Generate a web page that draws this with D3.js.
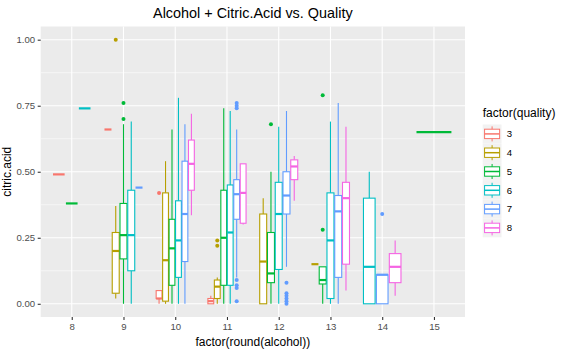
<!DOCTYPE html>
<html>
<head>
<meta charset="utf-8">
<script src="https://cdn.jsdelivr.net/npm/d3@7"></script>
<style>
  body { margin: 0; background: #fff; }
  text { font-family: "Liberation Sans", Arial, sans-serif; }
</style>
</head>
<body>
<div id="chart"></div>
<script>
const alcoholLevels = ["8", "9", "10", "11", "12", "13", "14", "15"];
const qualityLevels = ["3", "4", "5", "6", "7", "8"];
const qualityColors = ["#F8766D", "#B79F00", "#00BA38", "#00BFC4", "#619CFF", "#F564E3"];
const yTicks = [0, 0.25, 0.5, 0.75, 1];
const yMinor = [0.125, 0.375, 0.625, 0.875];

// alcohol, quality, lower whisker, q1, median, q3, upper whisker
const boxStats = [
    ["8", "3", 0.49, 0.49, 0.49, 0.49, 0.49],
    ["8", "5", 0.38, 0.38, 0.38, 0.38, 0.38],
    ["8", "6", 0.74, 0.74, 0.74, 0.74, 0.74],
    ["9", "3", 0.66, 0.66, 0.66, 0.66, 0.66],
    ["9", "4", 0.02, 0.04, 0.20, 0.27, 0.37],
    ["9", "5", 0, 0.17, 0.26, 0.38, 0.68],
    ["9", "6", 0, 0.125, 0.26, 0.43, 0.69],
    ["9", "7", 0.44, 0.44, 0.44, 0.44, 0.44],
    ["10", "3", 0, 0.02, 0.02, 0.05, 0.05],
    ["10", "4", 0, 0.01, 0.165, 0.42, 0.54],
    ["10", "5", 0, 0.07, 0.21, 0.32, 0.66],
    ["10", "6", 0, 0.10, 0.24, 0.39, 0.78],
    ["10", "7", 0, 0.16, 0.34, 0.54, 0.68],
    ["10", "8", 0.335, 0.43, 0.53, 0.62, 0.72],
    ["11", "3", 0, 0, 0.01, 0.02, 0.03],
    ["11", "4", 0, 0.02, 0.065, 0.09, 0.10],
    ["11", "5", 0, 0.07, 0.25, 0.43, 0.74],
    ["11", "6", 0, 0.07, 0.27, 0.45, 0.73],
    ["11", "7", 0.10, 0.32, 0.415, 0.47, 0.66],
    ["11", "8", 0.30, 0.305, 0.42, 0.53, 0.53],
    ["12", "4", 0, 0, 0.16, 0.34, 0.40],
    ["12", "5", 0, 0.08, 0.115, 0.27, 0.50],
    ["12", "6", 0, 0.13, 0.34, 0.46, 0.67],
    ["12", "7", 0.14, 0.34, 0.41, 0.50, 0.73],
    ["12", "8", 0.39, 0.47, 0.52, 0.545, 0.56],
    ["13", "4", 0.15, 0.15, 0.15, 0.15, 0.15],
    ["13", "5", 0, 0.075, 0.09, 0.14, 0.14],
    ["13", "6", 0, 0.02, 0.24, 0.42, 0.69],
    ["13", "7", 0, 0.10, 0.35, 0.41, 0.76],
    ["13", "8", 0.05, 0.15, 0.40, 0.46, 0.67],
    ["14", "6", 0, 0, 0.14, 0.40, 0.50],
    ["14", "7", 0, 0, 0.11, 0.11, 0.11],
    ["14", "8", 0.03, 0.08, 0.14, 0.19, 0.24],
    ["15", "5", 0.65, 0.65, 0.65, 0.65, 0.65]
];

// alcohol, quality, value
const outliers = [
    ["9", "4", 1.00], ["9", "5", 0.76], ["9", "5", 0.70],
    ["10", "3", 0.42],
    ["11", "4", 0.24], ["11", "4", 0.22],
    ["11", "7", 0.74], ["11", "7", 0.75], ["11", "7", 0.76],
    ["11", "7", 0.09], ["11", "7", 0.07], ["11", "7", 0.06], ["11", "7", 0.01],
    ["12", "5", 0.68],
    ["12", "7", 0.08], ["12", "7", 0.04], ["12", "7", 0.03], ["12", "7", 0.02], ["12", "7", 0.01], ["12", "7", 0],
    ["13", "5", 0.28], ["13", "5", 0.79],
    ["14", "7", 0.34]
];

const svgWidth = 563, svgHeight = 353;
const panel = { left: 40.7, top: 26.5, right: 465, bottom: 317 };

const svg = d3.select("#chart").append("svg")
    .attr("width", svgWidth)
    .attr("height", svgHeight);

const x = d3.scalePoint()
    .domain(alcoholLevels)
    .range([panel.left, panel.right])
    .padding(0.6);

const y = d3.scaleLinear()
    .domain([-0.05, 1.05])
    .range([panel.bottom, panel.top]);

const color = d3.scaleOrdinal().domain(qualityLevels).range(qualityColors);

// panel + grid
svg.append("rect")
    .attr("x", panel.left).attr("y", panel.top)
    .attr("width", panel.right - panel.left)
    .attr("height", panel.bottom - panel.top)
    .attr("fill", "#EBEBEB");

svg.append("g").selectAll("line")
    .data(yMinor).enter().append("line")
    .attr("x1", panel.left).attr("x2", panel.right)
    .attr("y1", d => y(d)).attr("y2", d => y(d))
    .attr("stroke", "#fff").attr("stroke-width", 0.55);

svg.append("g").selectAll("line")
    .data(yTicks).enter().append("line")
    .attr("x1", panel.left).attr("x2", panel.right)
    .attr("y1", d => y(d)).attr("y2", d => y(d))
    .attr("stroke", "#fff").attr("stroke-width", 1.1);

svg.append("g").selectAll("line")
    .data(alcoholLevels).enter().append("line")
    .attr("x1", d => x(d)).attr("x2", d => x(d))
    .attr("y1", panel.top).attr("y2", panel.bottom)
    .attr("stroke", "#fff").attr("stroke-width", 1.1);

// dodge positions (like position_dodge2, padding 0.1)
const groupsAt = {};
boxStats.forEach(d => { (groupsAt[d[0]] = groupsAt[d[0]] || []).push(d[1]); });
function slot(alc, q) {
    const list = groupsAt[alc];
    const n = list.length;
    const w = x.step() * 0.75 / n;
    const i = list.indexOf(q);
    const cx = x(alc) - x.step() * 0.375 + w * (i + 0.5);
    return { cx: cx, w: w * 0.9 };
}

const plot = svg.append("g");

plot.selectAll("circle.out")
    .data(outliers).enter().append("circle")
    .attr("class", "out")
    .attr("cx", d => slot(d[0], d[1]).cx)
    .attr("cy", d => y(d[2]))
    .attr("r", 2)
    .attr("fill", d => color(d[1]));

const boxes = plot.selectAll("g.box")
    .data(boxStats).enter().append("g")
    .attr("class", "box");

boxes.append("line")
    .attr("x1", d => slot(d[0], d[1]).cx).attr("x2", d => slot(d[0], d[1]).cx)
    .attr("y1", d => y(d[6])).attr("y2", d => y(d[5]))
    .attr("stroke", d => color(d[1])).attr("stroke-width", 1.1);

boxes.append("line")
    .attr("x1", d => slot(d[0], d[1]).cx).attr("x2", d => slot(d[0], d[1]).cx)
    .attr("y1", d => y(d[3])).attr("y2", d => y(d[2]))
    .attr("stroke", d => color(d[1])).attr("stroke-width", 1.1);

boxes.append("rect")
    .attr("x", d => slot(d[0], d[1]).cx - slot(d[0], d[1]).w / 2)
    .attr("width", d => slot(d[0], d[1]).w)
    .attr("y", d => y(d[5]))
    .attr("height", d => y(d[3]) - y(d[5]))
    .attr("fill", "#fff")
    .attr("stroke", d => color(d[1])).attr("stroke-width", 1.1);

boxes.append("line")
    .attr("x1", d => slot(d[0], d[1]).cx - slot(d[0], d[1]).w / 2)
    .attr("x2", d => slot(d[0], d[1]).cx + slot(d[0], d[1]).w / 2)
    .attr("y1", d => y(d[4])).attr("y2", d => y(d[4]))
    .attr("stroke", d => color(d[1])).attr("stroke-width", 2.2);

// axes
const yAxis = svg.append("g")
    .attr("transform", `translate(${panel.left},0)`)
    .call(d3.axisLeft(y).tickValues(yTicks).tickFormat(d3.format(".2f")).tickSize(3).tickPadding(2.5));
const xAxis = svg.append("g")
    .attr("transform", `translate(0,${panel.bottom})`)
    .call(d3.axisBottom(x).tickSize(3).tickPadding(3));
[yAxis, xAxis].forEach(a => {
    a.select(".domain").remove();
    a.selectAll(".tick line").attr("stroke", "#333333").attr("stroke-width", 1.1);
    a.selectAll(".tick text")
        .attr("fill", "#4D4D4D")
        .style("font-size", "9.6px")
        .style("font-family", "'Liberation Sans', Arial, sans-serif");
});

svg.append("text")
    .attr("x", (panel.left + panel.right) / 2)
    .attr("y", 346)
    .attr("text-anchor", "middle")
    .style("font-size", "12px")
    .text("factor(round(alcohol))");

svg.append("text")
    .attr("transform", `translate(10.8,${(panel.top + panel.bottom) / 2}) rotate(-90)`)
    .attr("text-anchor", "middle")
    .style("font-size", "12px")
    .text("citric.acid");

svg.append("text")
    .attr("x", (panel.left + panel.right) / 2)
    .attr("y", 18.3)
    .attr("text-anchor", "middle")
    .style("font-size", "14.4px")
    .text("Alcohol + Citric.Acid vs. Quality");

// legend
const legend = svg.append("g").attr("transform", "translate(482.7,0)");
legend.append("text")
    .attr("x", 0).attr("y", 117.3)
    .style("font-size", "12px")
    .text("factor(quality)");

const keySize = 18.8;
const keys = legend.selectAll("g.key")
    .data(qualityLevels).enter().append("g")
    .attr("class", "key")
    .attr("transform", (d, i) => `translate(0,${124.5 + i * keySize})`);

keys.append("rect")
    .attr("width", keySize).attr("height", keySize)
    .attr("fill", "#F2F2F2");
keys.append("line")
    .attr("x1", keySize / 2).attr("x2", keySize / 2)
    .attr("y1", keySize * 0.1).attr("y2", keySize * 0.9)
    .attr("stroke", d => color(d)).attr("stroke-width", 1);
keys.append("rect")
    .attr("x", keySize * 0.1).attr("y", keySize * 0.25)
    .attr("width", keySize * 0.8).attr("height", keySize * 0.5)
    .attr("fill", "#fff")
    .attr("stroke", d => color(d)).attr("stroke-width", 1);
keys.append("line")
    .attr("x1", keySize * 0.1).attr("x2", keySize * 0.9)
    .attr("y1", keySize / 2).attr("y2", keySize / 2)
    .attr("stroke", d => color(d)).attr("stroke-width", 1.5);
keys.append("text")
    .attr("x", keySize + 5.2)
    .attr("y", keySize / 2)
    .attr("dy", "0.35em")
    .attr("fill", "#000")
    .style("font-size", "9.6px")
    .text(d => d);
</script>
</body>
</html>
